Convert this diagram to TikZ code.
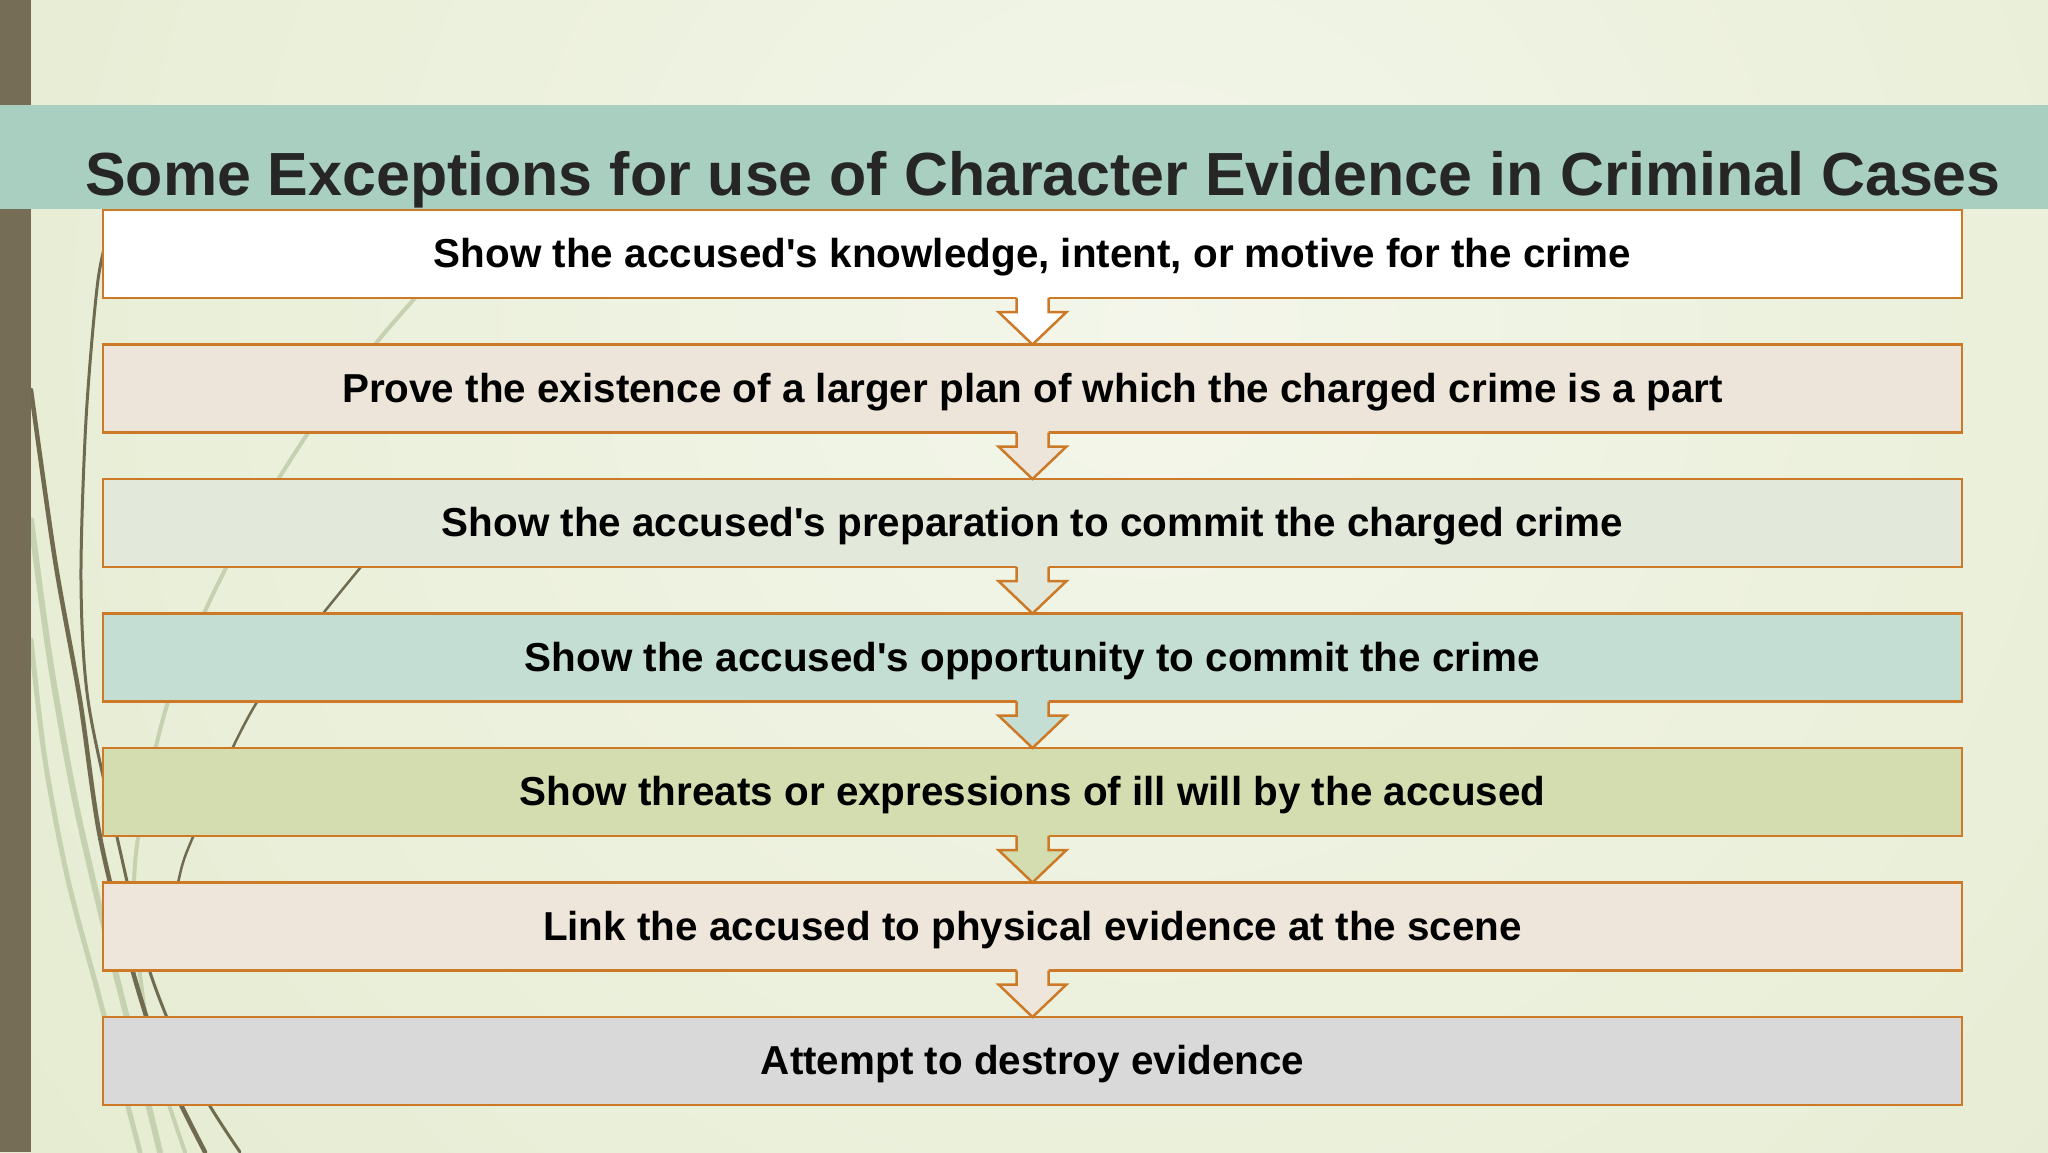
\documentclass[tikz,border=0pt]{standalone}
\usepackage{fontspec}
\setmainfont{Liberation Sans}[Ligatures=TeXOff]
\usetikzlibrary{calc}
\definecolor{bgout}{RGB}{222,231,196}
\definecolor{bgin}{RGB}{243,246,234}
\definecolor{barc}{RGB}{117,109,85}
\definecolor{titleband}{RGB}{168,207,192}
\definecolor{titletext}{RGB}{38,38,38}
\definecolor{edge}{RGB}{204,122,40}
\definecolor{darkline}{RGB}{111,106,80}
\definecolor{paleline}{RGB}{197,209,176}
\definecolor{ca}{RGB}{255,255,255}
\definecolor{cb}{RGB}{237,229,218}
\definecolor{cc}{RGB}{226,232,218}
\definecolor{cd}{RGB}{196,222,211}
\definecolor{ce}{RGB}{211,221,176}
\definecolor{cf}{RGB}{238,230,219}
\definecolor{cg}{RGB}{217,217,217}
\tikzset{
  stepbox/.style={draw=edge, line width=2.5pt, outer sep=0pt, inner sep=0pt,
    minimum width=1859pt, minimum height=88pt, text height=30pt, text depth=3pt,
    font=\fontsize{40.4}{48}\selectfont\bfseries, text=black},
  arrowline/.style={draw=edge, line width=2.5pt, line join=miter},
  darkdeco/.style={draw=darkline, line cap=round},
  paledeco/.style={draw=paleline, line cap=round}
}
\newcommand\flowarrow[3]{%
  \fill[#3] ($(#1.south)+(-16,-2)$) -- ($(#1.south)+(-16,14)$) -- ($(#1.south)+(-34,14)$)
    -- (#2.north) -- ($(#1.south)+(34,14)$) -- ($(#1.south)+(16,14)$) -- ($(#1.south)+(16,-2)$) -- cycle;
  \draw[arrowline] ($(#1.south)+(-16,0)$) -- ($(#1.south)+(-16,14)$) -- ($(#1.south)+(-34,14)$)
    -- (#2.north) -- ($(#1.south)+(34,14)$) -- ($(#1.south)+(16,14)$) -- ($(#1.south)+(16,0)$);
}
\begin{document}
\begin{tikzpicture}[x=1pt,y=-1pt]
\useasboundingbox (0,0) rectangle (2048,1152);
% background
\fill[bgout] (0,0) rectangle (2048,1152);
\begin{scope}
  \clip (0,0) rectangle (2048,1152);
  \shade[inner color=bgin, outer color=bgout] (1150,330) circle (2100);
\end{scope}
% decorative curves
\draw[paledeco, line width=6pt] plot[smooth] coordinates {(31,520) (50,660) (75,800) (105,930) (130,1030) (160,1152)};
\draw[paledeco, line width=5pt] plot[smooth] coordinates {(31,640) (45,760) (68,880) (100,1000) (140,1152)};
\draw[paledeco, line width=4pt] plot[smooth] coordinates {(440,270) (377,342) (308,433) (226,568) (168,702) (138,838) (135,920) (150,1040) (185,1152)};
\draw[darkdeco, line width=4.5pt] plot[smooth] coordinates {(31,390) (55,560) (80,700) (100,837) (133,972) (165,1070) (205,1152)};
\draw[darkdeco, line width=3pt] plot[smooth] coordinates {(112,220) (98,280) (86,420) (81,580) (88,700) (117,837) (150,972) (195,1080) (240,1152)};
\draw[darkdeco, line width=2.5pt] plot[smooth] coordinates {(430,490) (360,568) (257,702) (193,837) (178,883) (165,960)};
% left bar and title band
\fill[barc] (0,0) rectangle (31,1152);
\fill[titleband] (0,105) rectangle (2048,209);
\node[anchor=base, text=titletext, font=\fontsize{60.9}{70}\selectfont\bfseries, inner sep=0pt] (title) at (1043,195) {Some Exceptions for use of Character Evidence in Criminal Cases};
% boxes
\node[stepbox, fill=ca] (b1) at (1032.5,254) {Show the accused's knowledge, intent, or motive for the crime};
\node[stepbox, fill=cb] (b2) at (1032.5,388.5) {Prove the existence of a larger plan of which the charged crime is a part};
\node[stepbox, fill=cc] (b3) at (1032.5,523) {Show the accused's preparation to commit the charged crime};
\node[stepbox, fill=cd] (b4) at (1032.5,657.5) {Show the accused's opportunity to commit the crime};
\node[stepbox, fill=ce] (b5) at (1032.5,792) {Show threats or expressions of ill will by the accused};
\node[stepbox, fill=cf] (b6) at (1032.5,926.5) {Link the accused to physical evidence at the scene};
\node[stepbox, fill=cg] (b7) at (1032.5,1061) {Attempt to destroy evidence};
% arrows
\flowarrow{b1}{b2}{ca}
\flowarrow{b2}{b3}{cb}
\flowarrow{b3}{b4}{cc}
\flowarrow{b4}{b5}{cd}
\flowarrow{b5}{b6}{ce}
\flowarrow{b6}{b7}{cf}
\end{tikzpicture}
\end{document}
